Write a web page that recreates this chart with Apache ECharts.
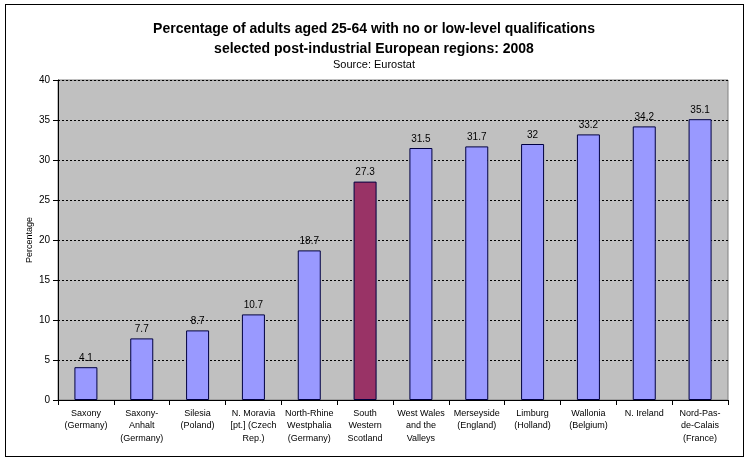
<!DOCTYPE html>
<html><head><meta charset="utf-8">
<script src="https://cdn.jsdelivr.net/npm/echarts@6/dist/echarts.min.js"></script>
<style>html,body{margin:0;padding:0;background:#fff}#c{width:748px;height:460px}
#frame{position:absolute;left:5px;top:4px;width:737px;height:451px;border:1px solid #000;pointer-events:none}</style>
</head><body><div id="c"></div><div id="frame"></div>
<script>
var categories = ["Saxony\n(Germany)","Saxony-\nAnhalt\n(Germany)","Silesia\n(Poland)","N. Moravia\n[pt.] (Czech\nRep.)","North-Rhine\nWestphalia\n(Germany)","South\nWestern\nScotland","West Wales\nand the\nValleys","Merseyside\n(England)","Limburg\n(Holland)","Wallonia\n(Belgium)","N. Ireland","Nord-Pas-\nde-Calais\n(France)"];
var values = [4.1,7.7,8.7,10.7,18.7,27.3,31.5,31.7,32,33.2,34.2,35.1];
var highlightIndex = 5;
var yTicks = [0,5,10,15,20,25,30,35,40];

var chart = echarts.init(document.getElementById('c'), null, {renderer:'canvas'});
var font = 'Liberation Sans, Arial, sans-serif';
chart.setOption({
  animation:false,
  backgroundColor:'#fff',
  title:[
    {text:'Percentage of adults aged 25-64 with no or low-level qualifications\nselected post-industrial European regions: 2008',left:'center',top:14,
     textStyle:{fontFamily:font,fontSize:14,fontWeight:'bold',color:'#000',lineHeight:20}},
    {text:'Source: Eurostat',left:'center',top:54,textStyle:{fontFamily:font,fontSize:11,fontWeight:'normal',color:'#000'}}
  ],
  grid:{left:58,right:20,top:80,bottom:60,show:true,backgroundColor:'#C0C0C0',borderColor:'#808080',borderWidth:1},
  xAxis:{type:'category',data:categories,
    axisLine:{lineStyle:{color:'#000'}},axisTick:{show:true,alignWithLabel:false,lineStyle:{color:'#000'}},
    axisLabel:{interval:0,fontFamily:font,fontSize:9,color:'#000',lineHeight:12.5,margin:7}},
  yAxis:{type:'value',min:yTicks[0],max:yTicks[yTicks.length-1],interval:5,
    name:'Percentage',nameLocation:'middle',nameGap:24,nameMoveOverlap:false,nameTextStyle:{fontFamily:font,fontSize:9,color:'#000'},
    axisLine:{show:true,lineStyle:{color:'#000'}},axisTick:{show:true,lineStyle:{color:'#000'}},
    axisLabel:{fontFamily:font,fontSize:10,color:'#000'},
    splitLine:{show:true,lineStyle:{color:'#000',type:[2,2],width:1}}},
  series:[{type:'bar',barWidth:23,
    data:values.map(function(v,i){return {value:v,itemStyle:{color:i===highlightIndex?'#993366':'#9999FF'}};}),
    itemStyle:{borderColor:'#000040',borderWidth:1},
    label:{show:true,position:'top',fontFamily:font,fontSize:10,color:'#000',distance:4}}]
});
</script></body></html>
